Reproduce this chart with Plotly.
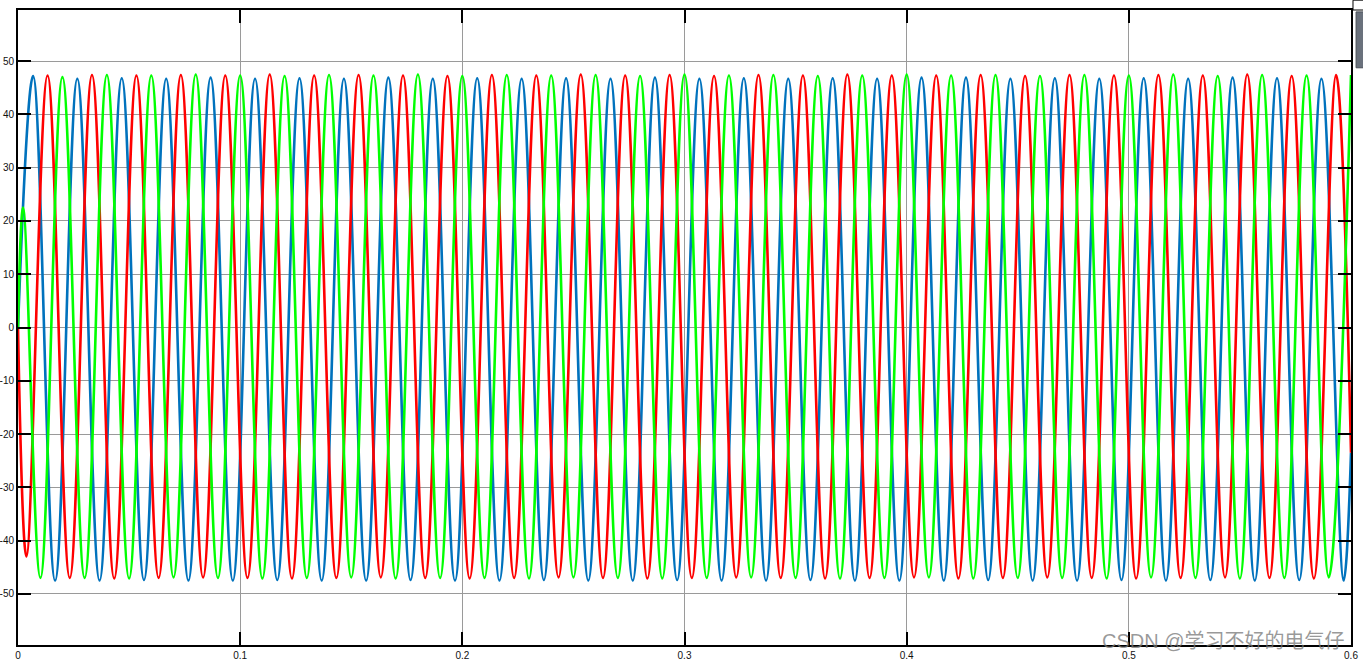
import plotly.graph_objects as go

# ---------------- data ----------------
# Extremum points (time s, value) of each phase, plus start/end samples.
green_t = [0, 0.0023, 0.0101,
           0.02, 0.03, 0.04, 0.05, 0.06, 0.07, 0.08, 0.09, 0.10, 0.11,
           0.12, 0.13, 0.14, 0.15, 0.16, 0.17, 0.18, 0.19, 0.20, 0.21,
           0.22, 0.23, 0.24, 0.25, 0.26, 0.27, 0.28, 0.29, 0.30, 0.31,
           0.32, 0.33, 0.34, 0.35, 0.36, 0.37, 0.38, 0.39, 0.40, 0.41,
           0.42, 0.43, 0.44, 0.45, 0.46, 0.47, 0.48, 0.49, 0.50, 0.51,
           0.52, 0.53, 0.54, 0.55, 0.56, 0.57, 0.58, 0.59, 0.60]
green_v = [0, 22.5, -47.0,
           47.0, -47.0, 47.4, -47.1, 47.3, -46.9, 47.5, -47.0, 47.3, -47.1,
           47.2, -47.0, 47.4, -46.9, 47.3, -47.1, 47.5, -47.0, 47.2, -47.0,
           47.4, -47.1, 47.3, -46.9, 47.4, -47.0, 47.2, -47.1, 47.5, -47.0,
           47.3, -46.9, 47.4, -47.0, 47.2, -47.1, 47.3, -47.0, 47.5, -46.9,
           47.3, -47.1, 47.4, -47.0, 47.2, -47.0, 47.4, -47.1, 47.3, -46.9,
           47.5, -47.0, 47.2, -47.1, 47.4, -47.0, 47.3, -46.9, 47.4]

red_t = [0, 0.0038,
         0.0133, 0.0233, 0.0333, 0.0433, 0.0533, 0.0633, 0.0733, 0.0833, 0.0933, 0.1033,
         0.1133, 0.1233, 0.1333, 0.1433, 0.1533, 0.1633, 0.1733, 0.1833, 0.1933, 0.2033,
         0.2133, 0.2233, 0.2333, 0.2433, 0.2533, 0.2633, 0.2733, 0.2833, 0.2933, 0.3033,
         0.3133, 0.3233, 0.3333, 0.3433, 0.3533, 0.3633, 0.3733, 0.3833, 0.3933, 0.4033,
         0.4133, 0.4233, 0.4333, 0.4433, 0.4533, 0.4633, 0.4733, 0.4833, 0.4933, 0.5033,
         0.5133, 0.5233, 0.5333, 0.5433, 0.5533, 0.5633, 0.5733, 0.5833, 0.5933,
         0.6]
red_v = [0, -43.0,
         47.3, -47.0, 47.4, -47.1, 47.3, -47.0, 47.4, -46.9, 47.3, -47.0,
         47.5, -47.1, 47.3, -47.0, 47.4, -46.9, 47.3, -47.0, 47.2, -47.1,
         47.4, -47.0, 47.3, -46.9, 47.5, -47.0, 47.3, -47.1, 47.4, -47.0,
         47.2, -46.9, 47.4, -47.0, 47.3, -47.1, 47.5, -47.0, 47.3, -46.9,
         47.3, -47.1, 47.4, -47.0, 47.2, -46.9, 47.4, -47.0, 47.3, -47.1,
         47.4, -47.0, 47.3, -46.9, 47.5, -47.0, 47.2, -47.1, 47.4,
         -23.5]

blue_t = [0, 0.0068,
          0.0167, 0.0267, 0.0367, 0.0467, 0.0567, 0.0667, 0.0767, 0.0867, 0.0967, 0.1067,
          0.1167, 0.1267, 0.1367, 0.1467, 0.1567, 0.1667, 0.1767, 0.1867, 0.1967, 0.2067,
          0.2167, 0.2267, 0.2367, 0.2467, 0.2567, 0.2667, 0.2767, 0.2867, 0.2967, 0.3067,
          0.3167, 0.3267, 0.3367, 0.3467, 0.3567, 0.3667, 0.3767, 0.3867, 0.3967, 0.4067,
          0.4167, 0.4267, 0.4367, 0.4467, 0.4567, 0.4667, 0.4767, 0.4867, 0.4967, 0.5067,
          0.5167, 0.5267, 0.5367, 0.5467, 0.5567, 0.5667, 0.5767, 0.5867, 0.5967,
          0.6]
blue_v = [0, 47.2,
          -47.5, 46.7, -47.5, 46.8, -47.4, 46.7, -47.5, 46.9, -47.5, 46.7,
          -47.4, 46.8, -47.5, 46.7, -47.5, 46.9, -47.4, 46.7, -47.5, 46.8,
          -47.5, 46.7, -47.4, 46.8, -47.5, 46.7, -47.5, 46.9, -47.4, 46.7,
          -47.5, 46.8, -47.5, 46.7, -47.4, 46.8, -47.5, 46.7, -47.5, 46.9,
          -47.5, 46.9, -47.4, 46.7, -47.5, 46.8, -47.5, 46.7, -47.4, 46.8,
          -47.5, 46.7, -47.4, 46.9, -47.5, 46.8, -47.4, 46.7, -47.5,
          -23.5]

x_ticks = [0, 0.1, 0.2, 0.3, 0.4, 0.5, 0.6]
x_tick_labels = ["0", "0.1", "0.2", "0.3", "0.4", "0.5", "0.6"]
y_ticks = [-50, -40, -30, -20, -10, 0, 10, 20, 30, 40, 50]
y_tick_labels = ["-50", "-40", "-30", "-20", "-10", "0", "10", "20", "30", "40", "50"]

watermark = "CSDN @学习不好的电气仔"

assert len(green_t) == len(green_v), (len(green_t), len(green_v))
assert len(red_t) == len(red_v), (len(red_t), len(red_v))
assert len(blue_t) == len(blue_v), (len(blue_t), len(blue_v))

# ---------------- figure ----------------
fig = go.Figure()
series = [
    (blue_t, blue_v, "#0072BD"),
    (red_t, red_v, "#FF0000"),
    (green_t, green_v, "#00FF00"),
]
for t, v, c in series:
    fig.add_trace(go.Scatter(
        x=t, y=v, mode="lines",
        line=dict(color=c, width=2.6, shape="spline", smoothing=1.1),
        hoverinfo="skip", showlegend=False,
    ))

axis_common = dict(
    showgrid=True, gridcolor="#9a9a9a", gridwidth=1,
    zeroline=False, automargin=False,
    showline=True, linecolor="black", linewidth=2,
    mirror="ticks",
    ticks="inside", ticklen=13, tickwidth=1.5, tickcolor="black",
    tickfont=dict(family="Liberation Sans, Arial, sans-serif", size=10, color="#111111"),
    tickmode="array",
)

fig.update_xaxes(range=[0, 0.6], tickvals=x_ticks, ticktext=x_tick_labels, **axis_common)
fig.update_yaxes(range=[-59.6, 59.6], tickvals=y_ticks, ticktext=y_tick_labels, **axis_common)

fig.add_annotation(
    text=watermark, xref="paper", yref="paper", x=0.997, y=0.006,
    xanchor="right", yanchor="middle", showarrow=False,
    font=dict(family="Liberation Sans, Noto Sans CJK SC, sans-serif", size=20,
              color="rgba(120,120,120,0.75)"),
)

# Simulink scope side widget (decoration)
fig.add_shape(type="rect", xref="paper", yref="paper",
              x0=1.0038, x1=1.0095, y0=0.909, y1=0.997,
              fillcolor="#6a717c", line=dict(color="#4b5058", width=1))
fig.add_shape(type="rect", xref="paper", yref="paper",
              x0=1.0015, x1=1.0095, y0=1.0, y1=1.0155,
              fillcolor="white", line=dict(color="black", width=1))

fig.update_layout(
    width=1363, height=663, autosize=False,
    margin=dict(l=18, r=12, t=10, b=18, autoexpand=False),
    paper_bgcolor="white", plot_bgcolor="white",
    showlegend=False,
)

# remove the browser's default 8px body margin so the figure fills the window
fig.write_html("out.html",
               config={"displayModeBar": False},
               post_script="document.body.style.margin='0px';document.body.style.overflow='hidden';")
